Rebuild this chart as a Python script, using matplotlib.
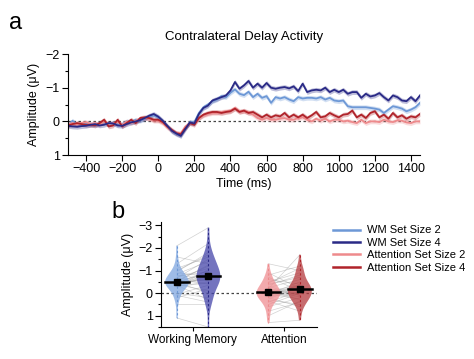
import numpy as np
import matplotlib
matplotlib.use("Agg")
import matplotlib.pyplot as plt
from matplotlib.lines import Line2D
from matplotlib.ticker import MultipleLocator

plt.rcParams["font.family"] = ["Liberation Sans", "DejaVu Sans"]

# --- panel a: CDA waveforms (uV), 25 ms steps ---
time_ms = np.arange(-500, 1451, 25)
wm2 = [0.12, -0.02, 0.1, 0.08, 0.05, 0.08, 0.12, 0.05, 0.02, 0.1, 0.05, 0.1, 0.08, 0.0,
       0.02, -0.05, -0.02, -0.08, -0.15, -0.18, -0.12, 0.0, 0.15, 0.3, 0.38, 0.42, 0.2,
       0.02, 0.02, -0.25, -0.42, -0.5, -0.6, -0.65, -0.75, -0.72, -0.85, -0.95, -0.82,
       -0.78, -0.88, -0.72, -0.82, -0.7, -0.75, -0.55, -0.72, -0.68, -0.72, -0.65, -0.6,
       -0.72, -0.68, -0.7, -0.7, -0.68, -0.72, -0.65, -0.7, -0.62, -0.6, -0.62, -0.45,
       -0.42, -0.42, -0.42, -0.42, -0.4, -0.38, -0.35, -0.25, -0.35, -0.45, -0.42, -0.38,
       -0.3, -0.35, -0.42, -0.55]
wm4 = [0.13, 0.15, 0.16, 0.14, 0.13, 0.1, 0.08, 0.12, 0.1, 0.05, 0.06, 0.12, 0.13, 0.08,
       0.03, 0.0, -0.04, -0.1, -0.17, -0.22, -0.14, -0.02, 0.13, 0.28, 0.36, 0.43, 0.23,
       0.03, 0.06, -0.22, -0.4, -0.47, -0.62, -0.67, -0.72, -0.77, -0.92, -1.17, -0.97,
       -1.07, -1.2, -1.0, -1.12, -1.0, -1.14, -1.0, -0.97, -1.0, -1.02, -0.98, -1.04, -0.9,
       -1.12, -0.87, -0.92, -0.94, -0.92, -1.0, -0.87, -0.94, -0.87, -0.94, -0.82, -0.87,
       -0.87, -0.7, -0.82, -0.74, -0.77, -0.84, -0.72, -0.62, -0.77, -0.72, -0.62, -0.6,
       -0.72, -0.6, -0.77]
att2 = [0.08, 0.05, 0.1, 0.05, 0.02, 0.08, 0.05, 0.1, 0.0, 0.08, 0.05, 0.02, 0.1, 0.0,
        0.05, -0.02, -0.08, -0.1, -0.08, -0.02, -0.02, 0.05, 0.18, 0.28, 0.35, 0.35, 0.15,
        0.05, 0.05, -0.1, -0.18, -0.22, -0.25, -0.25, -0.28, -0.3, -0.32, -0.4, -0.3, -0.3,
        -0.28, -0.2, -0.1, -0.05, -0.1, -0.05, -0.05, -0.08, -0.1, -0.05, -0.05, -0.1,
        -0.12, -0.05, 0.0, -0.08, -0.02, -0.08, 0.0, -0.05, -0.05, 0.0, -0.02, 0.02, 0.05,
        -0.05, 0.05, 0.0, 0.0, 0.02, -0.05, 0.0, 0.02, -0.03, -0.02, 0.03, 0.05, 0.0, 0.0]
att4 = [0.12, 0.08, 0.05, 0.08, 0.1, 0.1, 0.12, 0.05, -0.05, 0.15, 0.12, -0.05, 0.15, 0.05,
        -0.05, 0.05, -0.1, -0.12, -0.1, -0.05, -0.05, 0.02, 0.15, 0.25, 0.35, 0.38, 0.2,
        0.05, 0.1, -0.1, -0.2, -0.25, -0.28, -0.28, -0.25, -0.28, -0.3, -0.38, -0.28, -0.32,
        -0.25, -0.28, -0.2, -0.12, -0.2, -0.12, -0.18, -0.15, -0.25, -0.12, -0.2, -0.12,
        -0.2, -0.1, -0.18, -0.28, -0.12, -0.15, -0.25, -0.18, -0.12, -0.2, -0.22, -0.32,
        -0.12, -0.2, -0.1, -0.25, -0.3, -0.12, -0.2, -0.08, -0.25, -0.12, -0.18, -0.08,
        -0.15, -0.12, -0.22]
sem = 0.07

# --- panel b: per-subject mean amplitude (uV), same subject order in each pair ---
wm2_subj = [-0.55, -1.1, -0.3, 0.1, -0.8, -2.1, -0.45, -0.65, 0.2, -0.95, -0.4, -0.5,
            -1.3, -0.38, 1.1, -0.7, -0.25, -0.6, 0.0, -0.85, -0.42, -1.6, -0.35, -0.75,
            -0.52, 0.05, -0.9, -0.35, -0.48, -1.0, -0.58, 0.5, -0.28, -0.3, -0.68, -0.4]
wm4_subj = [-1.2, -1.6, -0.5, 0.4, -0.6, -2.9, -1.0, -0.6, -0.2, -1.8, -0.7, -0.9,
            -2.2, -0.1, 1.5, -1.1, -0.8, -0.4, 0.2, -1.4, -0.6, -1.3, 0.3, -0.95,
            -1.25, -0.35, -0.75, -0.85, 0.0, -1.7, -0.55, 0.5, -1.05, -0.45, -1.5, -0.65]
att2_subj = [0.1, -0.4, 0.3, -1.3, 0.0, 0.6, -0.2, 0.15, -0.6, 1.3, -0.1, 0.05,
             -0.3, 0.4, -0.8, 0.2, -0.05, 0.25, -0.15, 0.8, -0.5, 0.0, -0.25, 0.35,
             -0.9, 0.1, -0.1, 0.5, -0.35, 0.05, -0.7, 0.2, -0.2, 1.0, -0.45, -0.05]
att4_subj = [-0.2, -0.7, 0.5, -1.0, -0.3, 0.2, -1.7, 0.0, -0.4, 1.2, 0.3, -0.5,
             0.1, -0.1, -1.2, 0.6, -0.15, -0.25, 0.05, 0.4, -0.9, 0.15, -0.6, 0.8,
             -0.2, -0.05, -0.35, 0.0, -0.8, 0.25, -0.1, -0.4, 0.1, 0.35, -1.1, -0.3]

labels = ["WM Set Size 2", "WM Set Size 4", "Attention Set Size 2", "Attention Set Size 4"]
line_colors = ["#6d98d6", "#2a2a86", "#ee8a8c", "#b0232a"]
fill_colors = ["#7fa6e0", "#4646aa", "#f08e92", "#b53a3e"]
groups = ["Working Memory", "Attention"]

fig = plt.figure(figsize=(4.74, 3.59), dpi=100)

# ---------- panel a ----------
ax = fig.add_axes([0.1435, 0.568, 0.7425, 0.2815])
for ser, c in zip([wm2, att2, att4, wm4], [line_colors[0], line_colors[2], line_colors[3], line_colors[1]]):
    ser = np.array(ser)
    ax.fill_between(time_ms, ser - sem, ser + sem, color=c, alpha=0.3, lw=0)
    ax.plot(time_ms, ser, color=c, lw=1.3)
ax.axhline(0, ls=(0, (2, 2)), color="#444444", lw=0.9, zorder=0)
ax.set_xlim(-500, 1450)
ax.set_ylim(1, -2)
ax.set_xticks(range(-400, 1401, 200))
ax.set_xticklabels([str(v).replace("-", "\u2212") for v in range(-400, 1401, 200)])
ax.set_yticks([-2, -1, 0, 1])
ax.set_yticklabels(["\u22122", "\u22121", "0", "1"])
ax.yaxis.set_minor_locator(MultipleLocator(0.5))
ax.tick_params(labelsize=9, length=4, width=0.8, pad=2)
ax.tick_params(which="minor", length=2.5, width=0.8)
for s in ["top", "right"]:
    ax.spines[s].set_visible(False)
ax.set_xlabel("Time (ms)", fontsize=9, labelpad=2)
ax.set_ylabel("Amplitude (\u03bcV)", fontsize=9, labelpad=4)
ax.set_title("Contralateral Delay Activity", fontsize=9.5, pad=10)
fig.text(0.02, 0.935, "a", fontsize=17, va="center")

# ---------- panel b ----------
bx = fig.add_axes([0.3397, 0.089, 0.3293, 0.2927])
offs = 0.172
pos = [1 - offs, 1 + offs, 2 - offs, 2 + offs]
data = [wm2_subj, wm4_subj, att2_subj, att4_subj]

# subject lines
for a, b, p0, p1 in [(wm2_subj, wm4_subj, pos[0], pos[1]), (att2_subj, att4_subj, pos[2], pos[3])]:
    for v0, v1 in zip(a, b):
        bx.plot([p0, p1], [v0, v1], color="#9a9a9a", lw=0.5, alpha=0.45, zorder=1)

vp = bx.violinplot(data, positions=pos, widths=0.26, showextrema=False, bw_method=0.45)
for body, c in zip(vp["bodies"], fill_colors):
    body.set_facecolor(c)
    body.set_edgecolor("none")
    body.set_alpha(0.75)
    body.set_zorder(2)

for d, p, c in zip(data, pos, line_colors):
    d = np.array(d)
    bx.vlines(p, d.min(), d.max(), color=c, lw=0.8, ls=(0, (2, 2)), zorder=3)
    m = d.mean()
    bx.plot([p - 0.13, p + 0.13], [m, m], color="black", lw=1.8, zorder=4)
    bx.plot(p, m, "s", color="black", ms=4, zorder=5)

bx.axhline(0, ls=(0, (2, 2)), color="#444444", lw=0.9, zorder=0)
bx.set_xlim(0.653, 2.36)
bx.set_ylim(1.5, -3.15)
bx.set_xticks([1, 2])
bx.set_xticklabels(groups)
bx.set_yticks([-3, -2, -1, 0, 1])
bx.set_yticklabels(["\u22123", "\u22122", "\u22121", "0", "1"])
bx.yaxis.set_minor_locator(MultipleLocator(0.5))
bx.tick_params(labelsize=9, length=4, width=0.8, pad=2)
bx.tick_params(axis="x", labelsize=8.5, length=3)
bx.tick_params(which="minor", length=2.5, width=0.8)
for s in ["top", "right"]:
    bx.spines[s].set_visible(False)
bx.set_ylabel("Amplitude (\u03bcV)", fontsize=9, labelpad=3)
fig.text(0.235, 0.41, "b", fontsize=17, va="center")

handles = [Line2D([0], [0], color=c, lw=1.8) for c in line_colors]
fig.legend(handles, labels, loc="upper left", bbox_to_anchor=(0.7025, 0.372),
           frameon=False, fontsize=8, handlelength=2.4, handletextpad=0.7,
           labelspacing=0.22, borderpad=0, borderaxespad=0)

fig.savefig("out.png", dpi=100)
